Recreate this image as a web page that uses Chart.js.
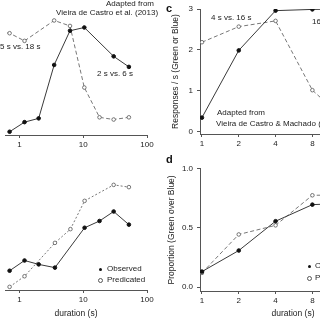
<!DOCTYPE html>
<html>
<head>
<meta charset="utf-8">
<script src="https://cdn.jsdelivr.net/npm/chart.js@4.4.1/dist/chart.umd.min.js"></script>
<style>
html,body{margin:0;padding:0;overflow:hidden;width:320px;height:320px;background:#fff;}
canvas{position:absolute;}
.t{position:absolute;font-family:"Liberation Sans",Arial,sans-serif;font-size:8px;color:#222;white-space:nowrap;line-height:1;}
.lab{position:absolute;font-family:"Liberation Sans",Arial,sans-serif;font-size:11px;font-weight:bold;color:#111;}
.dot{position:absolute;width:3px;height:3px;border-radius:50%;background:#111;}
.ring{position:absolute;width:3px;height:3px;border-radius:50%;border:1px solid #555;background:#fff;}
</style>
</head>
<body>
<canvas id="cA" width="160" height="155" style="left:0;top:0"></canvas>
<canvas id="cB" width="160" height="162" style="left:0;top:160px"></canvas>
<canvas id="cC" width="231" height="154" style="left:160px;top:0"></canvas>
<canvas id="cD" width="231" height="162" style="left:160px;top:160px"></canvas>

<div class="t" style="right:166px;top:0px;">Adapted from</div>
<div class="t" style="left:56px;top:9px;">Vieira de Castro et al. (2013)</div>
<div class="t" style="left:0px;top:43px;">5 s vs. 18 s</div>
<div class="t" style="left:97px;top:70px;">2 s vs. 6 s</div>

<div class="dot" style="left:99px;top:268px;"></div>
<div class="t" style="left:107px;top:265px;">Observed</div>
<div class="ring" style="left:98px;top:278px;"></div>
<div class="t" style="left:107px;top:276px;">Predicated</div>

<div class="lab" style="left:166px;top:2px;">c</div>
<div class="t" style="left:211px;top:14px;">4 s vs. 16 s</div>
<div class="t" style="left:312px;top:18px;">16 s vs. 64 s</div>
<div class="t" style="left:217px;top:109px;">Adapted from</div>
<div class="t" style="left:216px;top:120px;">Vieira de Castro &amp; Machado (2012)</div>

<div class="lab" style="left:166px;top:153px;">d</div>
<div class="dot" style="left:308px;top:265px;"></div>
<div class="t" style="left:315px;top:262px;">Observed</div>
<div class="ring" style="left:307px;top:276px;"></div>
<div class="t" style="left:315px;top:274px;">Predicated</div>

<script>
// ---- data ----
const durA = [0.4, 0.7, 1.2, 2.0, 3.5, 6.2, 10.4, 18, 30, 52];
const aSolid = [null, 0.025, 0.099, 0.128, 0.539, 0.802, 0.827, null, 0.605, 0.524];
const aDashed = [0.79, 0.783, 0.724, null, 0.881, 0.839, 0.365, 0.136, 0.119, 0.136];

const durB = [0.7, 1.2, 2.0, 3.6, 6.3, 10.5, 18, 30, 52];
const bObserved = [0.154, 0.236, 0.205, 0.179, null, 0.498, 0.552, 0.628, 0.523];
const bPredicated = [0.025, 0.11, null, 0.377, 0.487, 0.713, null, 0.841, 0.823];

const durCD = [1, 2, 4, 8, 16];
const cSolid = [0.35, 1.99, 2.96, 2.99, 3.0];
const cDashed = [2.19, 2.57, 2.71, 1.02, 0.2];
const dSolid = [0.131, 0.309, 0.557, 0.697, 0.71];
const dDashed = [0.12, 0.445, 0.522, 0.776, 0.78];

const ticksLog10 = [1, 10, 100];
const ticksLog2 = [1, 2, 4, 8, 16];
const ticksC = [0, 1, 2, 3];
const ticksD = [0, 0.5, 1.0];

// ---- style ----
Chart.defaults.font.family = '"Liberation Sans", Arial, sans-serif';
Chart.defaults.font.size = 8;
Chart.defaults.color = '#222';
const AX = '#555';

function pts(xs, ys) { return xs.map((x, i) => ({x: x, y: ys[i]})); }

function solidSet(data) {
  return {data: data, borderColor: '#3a3a3a', borderWidth: 1, pointRadius: 1.8,
    pointBackgroundColor: '#111', pointBorderColor: '#111', pointBorderWidth: 1, spanGaps: true, tension: 0};
}
function dashedSet(data, dash) {
  return {data: data, borderColor: '#777', borderWidth: 1, borderDash: dash, pointRadius: 1.8,
    pointBackgroundColor: '#fff', pointBorderColor: '#555', pointBorderWidth: 0.8, spanGaps: true, tension: 0};
}

function xAxis(min, max, ticks, h, title) {
  const o = {type: 'logarithmic', min: min, max: max,
    afterBuildTicks: s => { s.ticks = ticks.map(v => ({value: v})); },
    afterFit: s => { s.height = h; },
    ticks: {callback: v => String(v), padding: 2, maxRotation: 0, autoSkip: false, color: '#222', font: {size: 8}},
    grid: {display: true, drawOnChartArea: false, drawTicks: true, tickLength: 3, tickColor: AX},
    border: {display: true, color: AX, width: 1}};
  if (title) o.title = {display: true, text: title, font: {size: 8.5}, color: '#222', padding: {top: 0, bottom: 3}};
  return o;
}
function yAxis(min, max, ticks, fmt, title, tpad) {
  return {type: 'linear', min: min, max: max,
    afterBuildTicks: s => { s.ticks = ticks.map(v => ({value: v})); },
    afterFit: s => { s.width = 40; },
    ticks: {callback: fmt, padding: 4, color: '#222', font: {size: 8}},
    grid: {display: true, drawOnChartArea: false, drawTicks: true, tickLength: 3, tickColor: AX},
    border: {display: true, color: AX, width: 1},
    title: {display: true, text: title, font: {size: 8.5}, color: '#222', padding: {top: tpad, bottom: 0}}};
}

const base = {responsive: false, animation: false, devicePixelRatio: 1,
  plugins: {legend: {display: false}, tooltip: {enabled: false}}};

// Panel A (top-left)
new Chart(document.getElementById('cA'), {type: 'line',
  data: {datasets: [solidSet(pts(durA, aSolid)), dashedSet(pts(durA, aDashed), [4, 2.5])]},
  options: Object.assign({}, base, {layout: {padding: {left: 0, right: 13, top: 0, bottom: 0}},
    scales: {x: xAxis(0.593, 100, ticksLog10, 20), y: {display: false, min: 0, max: 1}}})});

// Panel B (bottom-left)
new Chart(document.getElementById('cB'), {type: 'line',
  data: {datasets: [solidSet(pts(durB, bObserved)), dashedSet(pts(durB, bPredicated), [2, 2])]},
  options: Object.assign({}, base, {layout: {padding: {left: 0, right: 13, top: 0, bottom: 0}},
    scales: {x: xAxis(0.593, 100, ticksLog10, 32, 'duration (s)'), y: {display: false, min: 0, max: 1}}})});

// Panel C (top-right)
new Chart(document.getElementById('cC'), {type: 'line',
  data: {datasets: [solidSet(pts(durCD, cSolid)), dashedSet(pts(durCD, cDashed), [4, 2.5])]},
  options: Object.assign({}, base, {layout: {padding: {left: 0, right: 0, top: 9, bottom: 0}},
    scales: {x: xAxis(0.964, 32, ticksLog2, 20),
      y: yAxis(-0.049, 3, ticksC, v => String(v), 'Responses / s (Green or Blue)', 11)}})});

// Panel D (bottom-right)
new Chart(document.getElementById('cD'), {type: 'line',
  data: {datasets: [solidSet(pts(durCD, dSolid)), dashedSet(pts(durCD, dDashed), [4, 2.5])]},
  options: Object.assign({}, base, {layout: {padding: {left: 0, right: 0, top: 5, bottom: 0}},
    scales: {x: xAxis(0.964, 32, ticksLog2, 31, 'duration (s)'),
      y: yAxis(-0.033, 1, ticksD, v => Number(v).toFixed(1), 'Proportion (Green over Blue)', 7)}})});
</script>
</body>
</html>
